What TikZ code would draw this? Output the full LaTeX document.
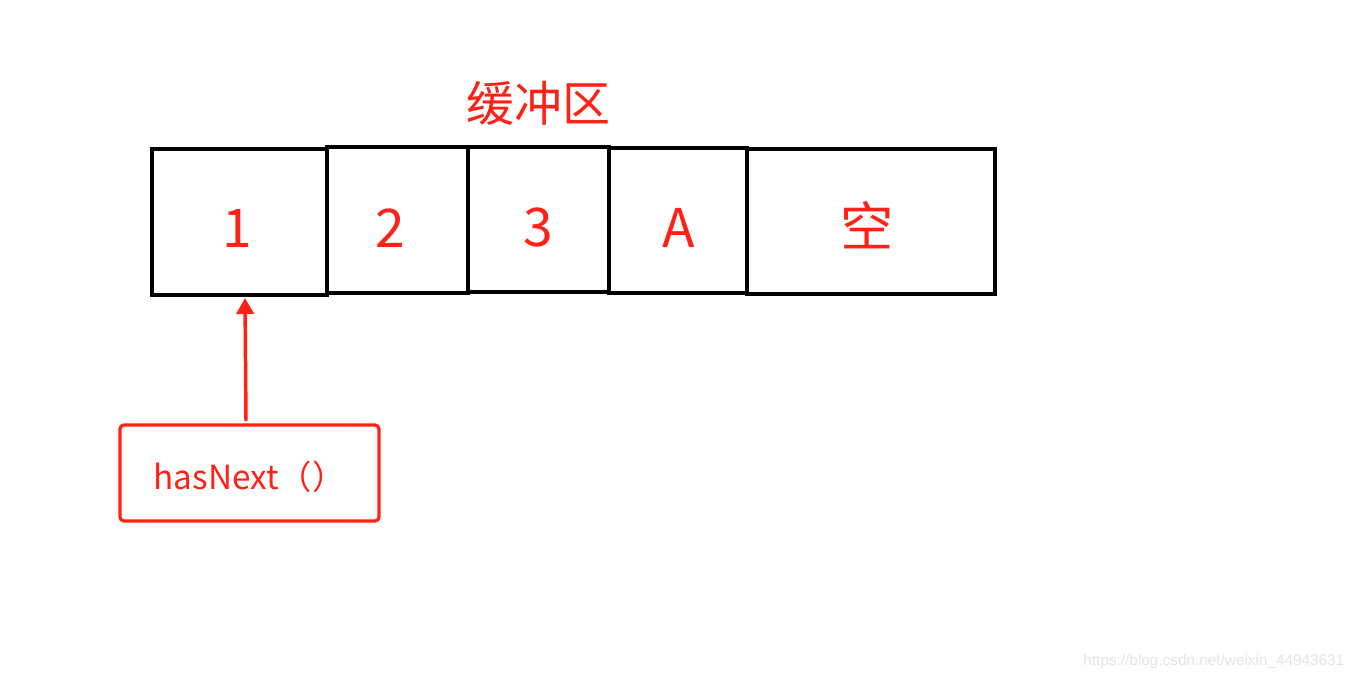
\documentclass[tikz,border=0pt]{standalone}
\usepackage{fontspec}
\setmainfont{Noto Sans CJK SC}
\newfontfamily\wmfont{Liberation Sans}
\usetikzlibrary{arrows.meta}
\definecolor{myred}{RGB}{255,32,22}
\definecolor{wmgray}{RGB}{228,228,228}
\tikzset{
  cell/.style={draw=black, line width=3.6pt, inner sep=0pt},
  celltext/.style={text=myred, inner sep=0pt, font=\fontsize{40}{40}\selectfont},
  callbox/.style={draw=myred, line width=2.4pt, rounded corners=3pt, inner sep=0pt, text=myred},
  ptr/.style={draw=myred, line width=2.6pt, -{Triangle[length=12pt,width=13pt]}}
}
\begin{document}
\begin{tikzpicture}[x=0.75pt,y=-0.75pt]
\useasboundingbox (0,0) rectangle (1356,681);
\node[cell, minimum width=131.25pt, minimum height=109.5pt] (c1) at (239.5,222) {};
\node[cell, minimum width=105.75pt, minimum height=109.5pt] (c2) at (397.5,220) {};
\node[cell, minimum width=105.75pt, minimum height=108.75pt] (c3) at (538.5,219.5) {};
\node[cell, minimum width=103.5pt, minimum height=108.75pt] (c4) at (678,220.5) {};
\node[cell, minimum width=186pt, minimum height=108.75pt] (c5) at (871,221.5) {};
\node[celltext] (t1) at (237,228) {1};
\node[celltext] (t2) at (390,228) {2};
\node[celltext] (t3) at (538,227) {3};
\node[celltext] (t4) at (679,228) {A};
\node[celltext] (t5) at (867,225) {空};
\node[text=myred, font=\fontsize{36}{36}\selectfont] (title) at (538,103) {缓冲区};
\node[callbox, minimum width=194.25pt, minimum height=72pt] (hn) at (249.5,473) {};
\node[text=myred, font=\fontsize{25}{25}\selectfont, anchor=west] (hntext) at (149,477) {hasNext（）};
\coordinate (tail) at (246,421);
\coordinate (tip) at (245,298);
\draw[ptr] (tail) -- (tip);
\node[text=wmgray, font=\wmfont\fontsize{11.5}{12}\selectfont, anchor=east] (wm) at (1349,662) {https://blog.csdn.net/weixin\_44943631};
\end{tikzpicture}
\end{document}
